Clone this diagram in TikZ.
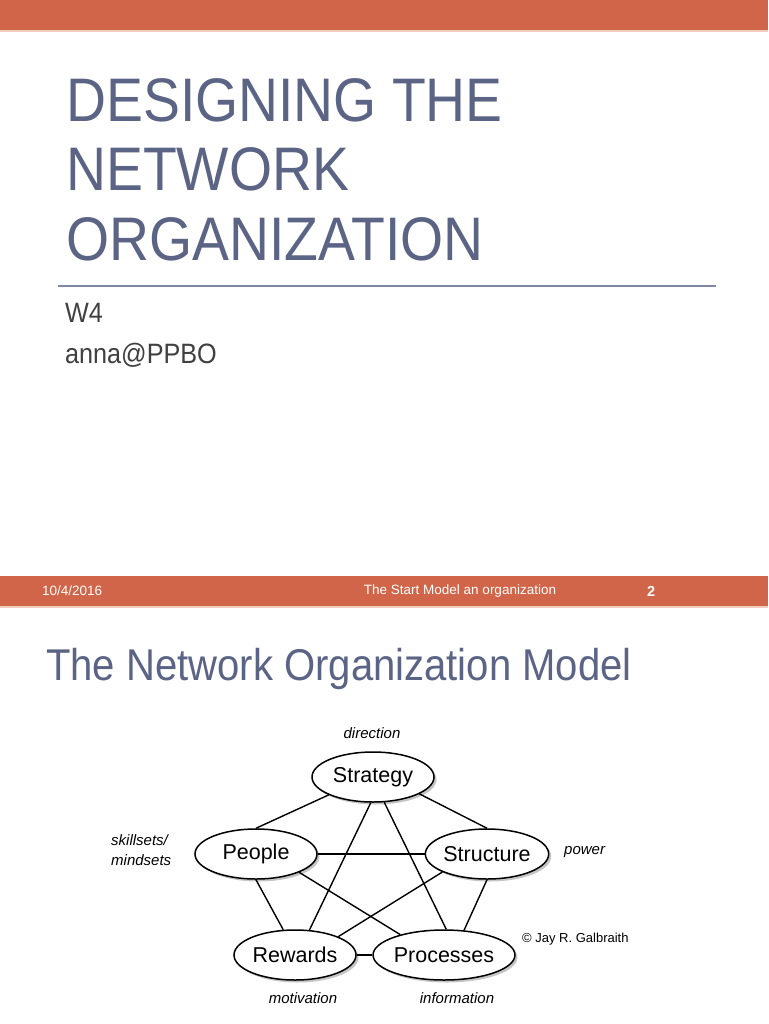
\documentclass[tikz,border=0pt]{standalone}
\usepackage{fontspec}
\setmainfont{Liberation Sans}
\newfontfamily\slidefont[FakeStretch=0.9]{Liberation Sans}
\usetikzlibrary{shapes.geometric,shadows}

\definecolor{barred}{HTML}{D16549}
\definecolor{barpale}{HTML}{F2CDBF}
\definecolor{slate}{HTML}{5B6485}
\definecolor{slaterule}{HTML}{8088A8}
\definecolor{bodygrey}{HTML}{404040}

\tikzset{
  part/.style={ellipse,draw,line width=1.5pt,fill=white,minimum width=122pt,
    minimum height=50pt,inner sep=0pt,font=\fontsize{21.5}{24}\selectfont,
    drop shadow={shadow xshift=2.5pt,shadow yshift=-2.5pt,fill=black!50,opacity=.45}},
  role/.style={font=\fontsize{15}{17}\itshape\selectfont,inner sep=0pt},
  bartext/.style={text=white,font=\fontsize{13.5}{15}\selectfont,inner sep=0pt},
  heading/.style={anchor=base west,inner sep=0pt,text=slate},
}

\begin{document}
\begin{tikzpicture}[x=1pt,y=-1pt]

  \useasboundingbox (0,0) rectangle (768,1024);
  \fill[white] (0,0) rectangle (768,1024);

  % bars
  \fill[barred] (0,0) rectangle (768,30);
  \fill[barpale] (0,30) rectangle (768,32);
  \fill[barred] (0,576) rectangle (768,606);
  \fill[barpale] (0,606) rectangle (768,608);

  % title slide
  \begin{scope}[every node/.style={heading,font=\slidefont\fontsize{61.5}{69}\selectfont}]
    \node (title1) at (66,122) {DESIGNING THE};
    \node (title2) at (66,191) {NETWORK};
    \node (title3) at (66,260) {ORGANIZATION};
  \end{scope}
  \draw[slaterule,line width=1.5pt] (58,286) -- (716,286);

  \begin{scope}[every node/.style={anchor=base west,inner sep=0pt,text=bodygrey,
      font=\slidefont\fontsize{28}{30}\selectfont}]
    \node (week) at (65,322) {W4};
    \node (mail) at (65,363) {anna@PPBO};
  \end{scope}

  % footer
  \node[bartext,anchor=west] (date) at (42,591) {10/4/2016};
  \node[bartext] (footer) at (460,591) {The Start Model an organization};
  \node[bartext,anchor=west,font=\fontsize{14.5}{16}\bfseries\selectfont] (page) at (647,591) {2};

  % second slide
  \node[heading,font=\slidefont\fontsize{44.5}{48}\selectfont] (model) at (46,680)
    {The Network Organization Model};

  \begin{scope}[every node/.style={part}]
    \node (strategy)  at (373,777) {Strategy};
    \node (people)    at (256,854) {People};
    \node (structure) at (487,854) {Structure};
    \node (rewards)   at (295,955) {Rewards};
    \node (processes) at (444,955) {Processes};
  \end{scope}

  \begin{scope}[every edge/.style={draw,line width=1.4pt}]
    \path (strategy.202) edge (people.north);
    \path (strategy.-20) edge (structure.north);
    \path (strategy.265) edge (rewards.60);
    \path (strategy.-66) edge (processes.85);
    \path (people.east)  edge (structure.west);
    \path (people.south) edge (rewards.115);
    \path (people.-23)   edge (processes.155);
    \path (structure.202) edge (rewards.23);
    \path (structure.south) edge (processes.51);
    \path (rewards.east) edge (processes.west);
  \end{scope}

  \node[role] (direction) at (372,733) {direction};
  \node[role,anchor=west,align=left,font=\fontsize{15}{20}\itshape\selectfont]
    (skills) at (111,850) {skillsets/\\mindsets};
  \node[role,anchor=west] (power) at (564,852) {power};
  \node[role] (motivation) at (303,998) {motivation};
  \node[role] (information) at (457,998) {information};
  \node[anchor=west,inner sep=0pt,font=\fontsize{13}{15}\selectfont] (credit) at (522,939)
    {\textcopyright\ Jay R. Galbraith};

\end{tikzpicture}
\end{document}
